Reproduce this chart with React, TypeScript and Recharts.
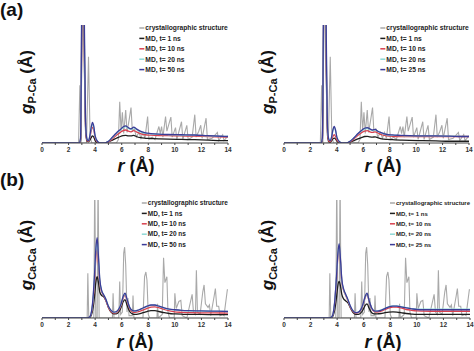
import React from "react";
import { LineChart, Line, XAxis, YAxis } from "recharts";

// crystallographic structure (P-Ca), spiky
const CRYST_PCA_R = [0, 2.75, 2.85, 2.95, 3.35, 3.5, 3.62, 3.75, 5.6, 5.75, 5.85, 5.95, 6.05, 6.15, 6.3, 6.4, 6.55, 6.7, 6.8, 6.95, 7.1, 7.3, 7.45, 7.6, 7.75, 7.95, 8.05, 8.3, 8.5, 8.8, 8.9, 9.0, 9.1, 9.3, 9.4, 9.55, 9.7, 9.8, 10.05, 10.15, 10.5, 10.6, 10.9, 11.0, 11.3, 11.5, 11.6, 11.8, 11.95, 12.05, 12.35, 12.45, 12.8, 13.2, 13.3, 13.6, 13.7, 14];
const CRYST_PCA_G = [0, 0, 4.9, 0, 0, 7.3, 0.5, 0, 0, 0.3, 3.5, 1.0, 2.6, 0.8, 2.8, 0.9, 1.9, 3.0, 1.0, 1.2, 0.5, 0.9, 0.4, 0.9, 0.4, 2.25, 0.3, 0.5, 0.3, 1.4, 0.8, 1.4, 0.5, 2.25, 1.0, 1.6, 2.2, 0.5, 1.3, 0.3, 1.8, 0.3, 1.5, 0.3, 0.5, 2.4, 0.5, 1.0, 1.5, 0.4, 2.1, 0.3, 0.4, 0.9, 0.2, 0.7, 0.2, 0.6];

// crystallographic structure (Ca-Ca)
const CRYST_CACA_R = [0, 3.4, 3.45, 3.52, 3.9, 3.97, 4.05, 4.15, 4.22, 4.3, 5.3, 5.35, 5.42, 5.78, 5.85, 5.92, 6.05, 6.15, 6.22, 6.3, 6.4, 6.47, 6.55, 6.8, 6.85, 6.92, 7.6, 7.72, 7.82, 7.9, 8.0, 8.1, 8.65, 8.7, 8.75, 9.05, 9.15, 9.25, 9.4, 9.48, 9.6, 9.95, 10.0, 10.1, 10.3, 10.45, 10.55, 10.9, 11.2, 11.3, 11.4, 11.55, 11.62, 11.7, 11.9, 12.1, 12.2, 12.3, 12.5, 12.6, 12.7, 12.95, 13.05, 13.15, 13.3, 13.4, 13.6, 13.7, 13.95, 14];
const CRYST_CACA_G = [0, 0, 3.8, 0, 0, 12, 0, 0, 12, 0, 0, 2.1, 0, 0, 3.1, 0.3, 0.5, 5.5, 6.0, 4.5, 0.5, 1.7, 0.2, 0.2, 1.9, 0, 0, 3.5, 3.9, 3.2, 0.3, 0, 0, 1.2, 0, 0.3, 5.1, 3.0, 3.5, 0.5, 0, 0, 2.1, 0.8, 1.4, 1.5, 0.2, 0, 1.5, 2.0, 0.5, 0.3, 4.05, 0.5, 0.3, 2.2, 2.8, 1.2, 0.9, 1.1, 0.2, 1.8, 2.5, 1.0, 1.0, 0.2, 0.3, 0.2, 2.4, 2.4];

// MD, P-Ca
const R_PCA = [0, 2.8, 2.9, 2.95, 3.0, 3.05, 3.1, 3.15, 3.2, 3.25, 3.3, 3.4, 3.5, 3.6, 3.7, 3.8, 3.9, 4.0, 4.2, 4.4, 4.7, 5.0, 5.3, 5.6, 5.9, 6.1, 6.3, 6.5, 6.7, 6.9, 7.1, 7.4, 7.8, 8.2, 8.8, 9.5, 10.5, 11.5, 12.5, 13.5, 14];
const PCA_A_T1 = [0, 0, 0.2, 3, 10, 15, 15, 11, 6, 2.5, 0.7, 0.15, 0.1, 0.25, 0.45, 0.6, 0.5, 0.2, 0, 0, 0, 0.1, 0.25, 0.4, 0.55, 0.62, 0.65, 0.6, 0.6, 0.65, 0.55, 0.45, 0.4, 0.38, 0.35, 0.32, 0.3, 0.28, 0.25, 0.2, 0.2];
const PCA_A_T10 = [0, 0, 0.3, 4, 12, 18, 18, 13, 7, 3, 0.9, 0.2, 0.15, 0.45, 1.0, 1.35, 1.1, 0.45, 0.05, 0, 0, 0.1, 0.35, 0.65, 0.9, 1.05, 1.1, 1.0, 0.95, 1.05, 0.95, 0.8, 0.7, 0.66, 0.63, 0.62, 0.6, 0.58, 0.55, 0.52, 0.5];
const PCA_A_T20 = [0, 0, 0.4, 5, 14, 19, 19, 14, 8, 3.5, 1.1, 0.3, 0.2, 0.55, 1.2, 1.6, 1.3, 0.55, 0.1, 0, 0, 0.15, 0.45, 0.8, 1.1, 1.3, 1.38, 1.25, 1.15, 1.3, 1.15, 0.95, 0.82, 0.78, 0.73, 0.7, 0.68, 0.66, 0.6, 0.56, 0.55];
const PCA_A_T50 = [0, 0, 0.4, 5, 14, 20, 20, 15, 9, 4, 1.2, 0.3, 0.2, 0.6, 1.3, 1.75, 1.4, 0.6, 0.1, 0, 0, 0.15, 0.5, 0.85, 1.15, 1.35, 1.45, 1.3, 1.2, 1.35, 1.2, 1.0, 0.85, 0.8, 0.75, 0.72, 0.7, 0.68, 0.62, 0.57, 0.55];

const PCA_B_T1 = [0, 0, 0.2, 3, 10, 15, 15, 11, 6, 2.5, 0.6, 0.1, 0.05, 0.2, 0.35, 0.42, 0.35, 0.15, 0, 0, 0, 0.08, 0.2, 0.35, 0.48, 0.55, 0.56, 0.52, 0.5, 0.52, 0.45, 0.35, 0.3, 0.28, 0.25, 0.22, 0.2, 0.18, 0.15, 0.15, 0.15];
const PCA_B_T10 = [0, 0, 0.3, 4, 12, 18, 18, 13, 7, 3, 0.8, 0.15, 0.1, 0.3, 0.55, 0.7, 0.55, 0.25, 0.05, 0, 0, 0.1, 0.35, 0.65, 0.9, 1.0, 1.05, 0.95, 0.9, 0.95, 0.85, 0.7, 0.6, 0.57, 0.55, 0.55, 0.55, 0.55, 0.55, 0.55, 0.55];
const PCA_B_T20 = [0, 0, 0.4, 5, 13, 19, 19, 14, 8, 3.5, 1.1, 0.3, 0.2, 0.48, 1.05, 1.35, 1.05, 0.48, 0.1, 0, 0, 0.15, 0.45, 0.78, 1.05, 1.2, 1.25, 1.15, 1.05, 1.1, 0.98, 0.83, 0.7, 0.66, 0.63, 0.61, 0.6, 0.6, 0.58, 0.56, 0.56];
const PCA_B_T25 = [0, 0, 0.4, 5, 14, 20, 20, 15, 9, 4, 1.2, 0.3, 0.2, 0.5, 1.1, 1.4, 1.1, 0.5, 0.1, 0, 0, 0.15, 0.45, 0.8, 1.1, 1.25, 1.3, 1.2, 1.1, 1.15, 1.0, 0.85, 0.72, 0.68, 0.65, 0.62, 0.6, 0.6, 0.58, 0.55, 0.55];

// MD, Ca-Ca
const R_CACA = [0, 3.4, 3.6, 3.8, 3.95, 4.05, 4.15, 4.25, 4.35, 4.5, 4.65, 4.8, 5.0, 5.2, 5.4, 5.6, 5.8, 5.95, 6.1, 6.25, 6.4, 6.6, 6.8, 7.0, 7.3, 7.6, 7.9, 8.2, 8.5, 8.8, 9.2, 9.6, 10.0, 10.5, 11, 12, 13, 14];
const CACA_A_T1 = [0, 0, 0.05, 0.6, 1.8, 3.0, 3.5, 3.0, 2.2, 1.9, 1.8, 1.5, 0.9, 0.5, 0.35, 0.35, 0.55, 0.9, 1.35, 1.55, 1.1, 0.55, 0.35, 0.3, 0.35, 0.45, 0.55, 0.62, 0.62, 0.55, 0.45, 0.38, 0.35, 0.32, 0.3, 0.3, 0.28, 0.28];
const CACA_A_T10 = [0, 0, 0.08, 1.0, 3.0, 5.0, 5.9, 4.6, 3.0, 2.2, 1.9, 1.5, 0.9, 0.55, 0.42, 0.45, 0.7, 1.05, 1.65, 1.95, 1.45, 0.78, 0.52, 0.48, 0.55, 0.68, 0.82, 0.92, 0.95, 0.88, 0.72, 0.6, 0.52, 0.48, 0.45, 0.44, 0.43, 0.42];
const CACA_A_T20 = [0, 0, 0.1, 1.1, 3.4, 5.5, 6.5, 5.0, 3.2, 2.3, 1.95, 1.6, 1.0, 0.62, 0.48, 0.52, 0.78, 1.15, 1.75, 2.05, 1.55, 0.88, 0.62, 0.58, 0.68, 0.82, 0.97, 1.07, 1.08, 0.98, 0.84, 0.74, 0.68, 0.64, 0.6, 0.58, 0.56, 0.55];
const CACA_A_T50 = [0, 0, 0.1, 1.2, 3.6, 5.8, 6.8, 5.2, 3.3, 2.3, 1.95, 1.6, 1.0, 0.65, 0.5, 0.55, 0.8, 1.2, 1.8, 2.1, 1.6, 0.9, 0.65, 0.6, 0.7, 0.85, 1.0, 1.1, 1.1, 1.0, 0.85, 0.75, 0.7, 0.65, 0.62, 0.6, 0.58, 0.55];

const CACA_B_T1 = [0, 0, 0.05, 0.6, 1.7, 2.7, 3.1, 2.7, 2.0, 1.6, 1.45, 1.3, 0.85, 0.45, 0.3, 0.3, 0.45, 0.7, 1.05, 1.2, 0.85, 0.45, 0.35, 0.35, 0.38, 0.45, 0.5, 0.52, 0.5, 0.45, 0.38, 0.33, 0.3, 0.3, 0.3, 0.3, 0.3, 0.3];
const CACA_B_T10 = [0, 0, 0.08, 1.1, 3.3, 5.1, 6.0, 4.8, 3.1, 2.3, 1.9, 1.5, 0.9, 0.55, 0.42, 0.45, 0.7, 1.1, 1.7, 2.0, 1.45, 0.8, 0.55, 0.5, 0.58, 0.72, 0.85, 0.92, 0.92, 0.85, 0.72, 0.65, 0.6, 0.58, 0.57, 0.57, 0.57, 0.57];
const CACA_B_T20 = [0, 0, 0.1, 1.2, 3.5, 5.3, 6.2, 4.9, 3.2, 2.35, 1.95, 1.55, 0.98, 0.6, 0.45, 0.5, 0.75, 1.15, 1.75, 2.05, 1.5, 0.85, 0.62, 0.6, 0.68, 0.82, 0.97, 1.02, 1.02, 0.97, 0.88, 0.8, 0.76, 0.75, 0.75, 0.75, 0.75, 0.75];
const CACA_B_T25 = [0, 0, 0.1, 1.2, 3.5, 5.4, 6.3, 5.0, 3.3, 2.4, 2.0, 1.6, 1.0, 0.6, 0.45, 0.5, 0.75, 1.2, 1.8, 2.1, 1.5, 0.85, 0.6, 0.58, 0.65, 0.8, 0.95, 1.0, 1.0, 0.95, 0.85, 0.78, 0.72, 0.7, 0.7, 0.7, 0.7, 0.7];

const X_TICKS = [0, 1, 2, 3, 4, 5, 6, 7, 8, 9, 10, 11, 12, 13, 14];
const LABELS_50 = ["crystallographic structure", "MD, t= 1 ns", "MD, t= 10 ns", "MD, t= 20 ns", "MD, t= 50 ns"];
const LABELS_25 = ["crystallographic structure", "MD, t= 1 ns", "MD, t= 10 ns", "MD, t= 20 ns", "MD, t= 25 ns"];
const COLORS = ["#a9a9a9", "#1e1e1e", "#d9404f", "#8ed8d6", "#3b3b98"];

const FONT = "'Liberation Sans', Arial, sans-serif";

const zip = (r: number[], g: number[]) => r.map((x, i) => ({ r: x, g: g[i] }));

type PanelProps = {
  left: number;
  top: number;
  plotW: number;
  crystR: number[];
  crystG: number[];
  mdR: number[];
  md: number[][];
  labels: string[];
  legendSize: number;
};

function Panel({ left, top, plotW, crystR, crystG, mdR, md, labels, legendSize }: PanelProps) {
  const series = [zip(crystR, crystG), ...md.map((s) => zip(mdR, s))];
  const lx = plotW + 10 - legendSize * 12.34 - 6;
  return (
    <div style={{ position: "absolute", left: left - 10, top: top - 5 }}>
      <LineChart
        width={plotW + 18}
        height={143}
        margin={{ top: 5, right: 8, bottom: 0, left: 10 }}
      >
        <XAxis
          dataKey="r"
          type="number"
          domain={[0, 14]}
          ticks={X_TICKS}
          interval={0}
          allowDataOverflow
          height={20}
          tickSize={2}
          tickMargin={2}
          tickFormatter={(v: number) => (v % 2 === 0 ? String(v) : "")}
          stroke="#444"
          tick={{ fill: "#333", fontSize: 6.5, fontWeight: "bold", fontFamily: FONT }}
        />
        <YAxis
          type="number"
          domain={[0, 10]}
          allowDataOverflow
          width={0}
          tick={false}
          tickLine={false}
          axisLine={{ stroke: "#666", strokeWidth: 1.2 }}
        />
        {series.map((d, i) => (
          <Line
            key={i}
            data={d}
            dataKey="g"
            type={i === 0 ? "linear" : "monotone"}
            stroke={COLORS[i]}
            strokeWidth={i === 0 ? 1.1 : 1.3}
            dot={false}
            isAnimationActive={false}
          />
        ))}
        {labels.map((l, i) => (
          <g key={l}>
            <line x1={lx} x2={lx + 5} y1={8 + i * 10.4} y2={8 + i * 10.4} stroke={COLORS[i]} strokeWidth={1.5} />
            <text x={lx + 6} y={8 + i * 10.4} dy="0.35em" fill="#222" fontSize={legendSize} fontWeight="bold" fontFamily={FONT}>
              {l}
            </text>
          </g>
        ))}
      </LineChart>
    </div>
  );
}

function YLabel({ cx, cy, sub }: { cx: number; cy: number; sub: string }) {
  return (
    <div
      style={{
        position: "absolute",
        left: cx,
        top: cy,
        transform: "translate(-50%, -50%) rotate(-90deg)",
        whiteSpace: "nowrap",
        fontFamily: FONT,
        fontWeight: "bold",
        fontSize: 17,
        color: "#111",
      }}
    >
      <span style={{ fontStyle: "italic" }}>g</span>
      <span style={{ fontSize: 11, position: "relative", top: 4 }}>{sub}</span> (Å)
    </div>
  );
}

function XLabel({ cx, top }: { cx: number; top: number }) {
  return (
    <div
      style={{
        position: "absolute",
        left: cx,
        top,
        transform: "translateX(-50%)",
        whiteSpace: "nowrap",
        fontFamily: FONT,
        fontWeight: "bold",
        fontSize: 18,
        color: "#111",
      }}
    >
      <span style={{ fontStyle: "italic" }}>r</span> (Å)
    </div>
  );
}

export default function App() {
  return (
    <div style={{ position: "absolute", left: 0, top: 0, width: 474, height: 351, background: "#fff", overflow: "hidden" }}>
      <div style={{ position: "absolute", left: 0, top: 0, fontFamily: FONT, fontWeight: "bold", fontSize: 19, lineHeight: "20px", color: "#111" }}>(a)</div>
      <div style={{ position: "absolute", left: 0, top: 170, fontFamily: FONT, fontWeight: "bold", fontSize: 19, lineHeight: "20px", color: "#111" }}>(b)</div>

      <Panel left={42} top={25} plotW={186} crystR={CRYST_PCA_R} crystG={CRYST_PCA_G} mdR={R_PCA} md={[PCA_A_T1, PCA_A_T10, PCA_A_T20, PCA_A_T50]} labels={LABELS_50} legendSize={6.7} />
      <Panel left={284} top={25} plotW={185} crystR={CRYST_PCA_R} crystG={CRYST_PCA_G} mdR={R_PCA} md={[PCA_B_T1, PCA_B_T10, PCA_B_T20, PCA_B_T25]} labels={LABELS_25} legendSize={6.7} />
      <Panel left={42} top={200} plotW={186} crystR={CRYST_CACA_R} crystG={CRYST_CACA_G} mdR={R_CACA} md={[CACA_A_T1, CACA_A_T10, CACA_A_T20, CACA_A_T50]} labels={LABELS_50} legendSize={6.5} />
      <Panel left={284} top={200} plotW={186} crystR={CRYST_CACA_R} crystG={CRYST_CACA_G} mdR={R_CACA} md={[CACA_B_T1, CACA_B_T10, CACA_B_T20, CACA_B_T25]} labels={LABELS_25} legendSize={6} />

      <YLabel cx={27} cy={82} sub="P-Ca" />
      <YLabel cx={268} cy={82} sub="P-Ca" />
      <YLabel cx={27} cy={255} sub="Ca-Ca" />
      <YLabel cx={268} cy={255} sub="Ca-Ca" />

      <XLabel cx={136} top={156} />
      <XLabel cx={383} top={156} />
      <XLabel cx={135} top={332} />
      <XLabel cx={383} top={332} />
    </div>
  );
}
